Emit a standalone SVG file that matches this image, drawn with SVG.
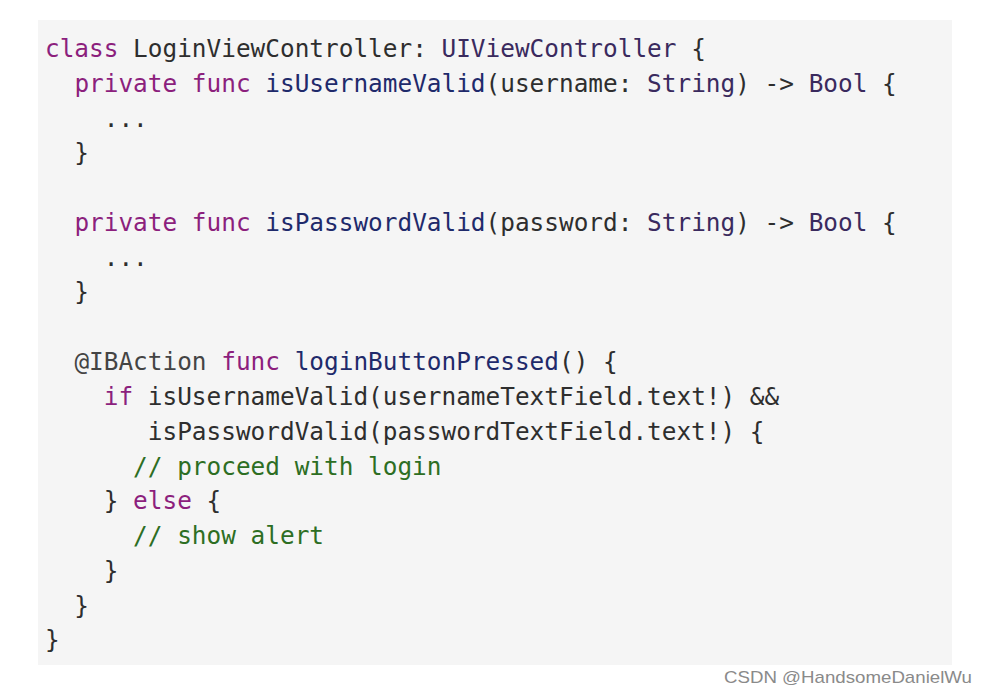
<svg xmlns="http://www.w3.org/2000/svg" width="987" height="692" viewBox="0 0 987 692">
<style>
text{font-family:"DejaVu Sans Mono","Liberation Mono",monospace;font-size:24.4px;fill:#2e2e2e;white-space:pre}
.k{fill:#8c1f7d}.f{fill:#1f2a6b}.t{fill:#3a2a5e}.c{fill:#2d6e23}.a{fill:#444}
.w{font-family:"Liberation Sans",Arial,sans-serif;font-size:17px;fill:#8a8a8a}
</style>
<rect width="987" height="692" fill="#fff"/>
<rect x="38" y="20" width="914" height="645" fill="#f5f5f5"/>
<g id="code" xml:space="preserve">
<text x="45" y="57"><tspan class="k">class</tspan> LoginViewController: <tspan class="t">UIViewController</tspan> {</text>
<text x="45" y="92">  <tspan class="k">private func</tspan> <tspan class="f">isUsernameValid</tspan>(username: <tspan class="t">String</tspan>) -&gt; <tspan class="t">Bool</tspan> {</text>
<text x="45" y="127">    ...</text>
<text x="45" y="161">  }</text>
<text x="45" y="231">  <tspan class="k">private func</tspan> <tspan class="f">isPasswordValid</tspan>(password: <tspan class="t">String</tspan>) -&gt; <tspan class="t">Bool</tspan> {</text>
<text x="45" y="266">    ...</text>
<text x="45" y="300">  }</text>
<text x="45" y="370">  <tspan class="a">@IBAction</tspan> <tspan class="k">func</tspan> <tspan class="f">loginButtonPressed</tspan>() {</text>
<text x="45" y="405">    <tspan class="k">if</tspan> isUsernameValid(usernameTextField.text!) &amp;&amp;</text>
<text x="45" y="440">       isPasswordValid(passwordTextField.text!) {</text>
<text x="45" y="475" class="c">      // proceed with login</text>
<text x="45" y="509">    } <tspan class="k">else</tspan> {</text>
<text x="45" y="544" class="c">      // show alert</text>
<text x="45" y="579">    }</text>
<text x="45" y="614">  }</text>
<text x="45" y="648">}</text>
</g>
<text class="w" x="724" y="683" textLength="248" lengthAdjust="spacingAndGlyphs">CSDN @HandsomeDanielWu</text>
</svg>
